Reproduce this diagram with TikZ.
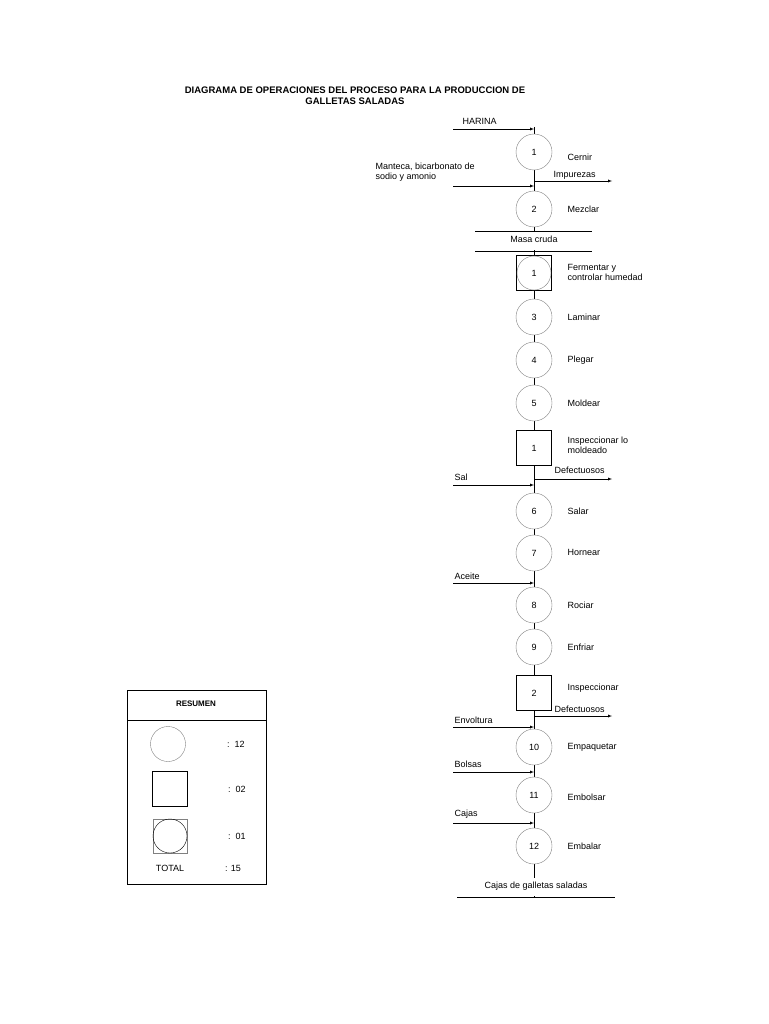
\documentclass[tikz,border=0pt]{standalone}
\usepackage{fontspec}
\setmainfont{Liberation Sans}
\begin{document}
\begin{tikzpicture}[x=1pt,y=-1pt,font=\fontsize{9}{10}\selectfont,
 op/.style={circle,draw,gray,text=black,minimum size=36pt,inner sep=0pt},
 insp/.style={rectangle,draw,minimum size=35pt,inner sep=0pt},
 lbl/.style={anchor=west,align=left},
 arr/.style={-latex}]
\useasboundingbox (0,0) rectangle (768,1024);
\node[font=\bfseries\fontsize{9.5}{11}\selectfont,align=center] (title) at (355,96) {DIAGRAMA DE OPERACIONES DEL PROCESO PARA LA PRODUCCION DE\\GALLETAS SALADAS};
\coordinate (top) at (534,127);
\coordinate (bot) at (534,897);
\draw (top) -- (bot);
\node[op,fill=white] (o1) at (534,152) {1};
\node[op,fill=white] (o2) at (534,209) {2};
\node[insp,fill=white] (c1) at (534,273) {};
\node[op,minimum size=34pt] (c1c) at (534,273) {1};
\node[op,fill=white] (o3) at (534,317) {3};
\node[op,fill=white] (o4) at (534,360) {4};
\node[op,fill=white] (o5) at (534,403) {5};
\node[insp,fill=white] (i1) at (534,448) {1};
\node[op,fill=white] (o6) at (534,511) {6};
\node[op,fill=white] (o7) at (534,553) {7};
\node[op,fill=white] (o8) at (534,605) {8};
\node[op,fill=white] (o9) at (534,647) {9};
\node[insp,fill=white] (i2) at (534,693) {2};
\node[op,fill=white] (o10) at (534,747) {10};
\node[op,fill=white] (o11) at (534,795) {11};
\node[op,fill=white] (o12) at (534,846) {12};
% step labels
\node[lbl] (l1) at (564,157) {Cernir};
\node[lbl] (l2) at (564,209) {Mezclar};
\node[lbl] (lc1) at (564,272) {Fermentar y\\controlar humedad};
\node[lbl] (l3) at (564,317) {Laminar};
\node[lbl] (l4) at (564,360) {Plegar};
\node[lbl] (l5) at (564,403) {Moldear};
\node[lbl] (li1) at (564,445) {Inspeccionar lo\\moldeado};
\node[lbl] (l6) at (564,511) {Salar};
\node[lbl] (l7) at (564,552) {Hornear};
\node[lbl] (l8) at (564,605) {Rociar};
\node[lbl] (l9) at (564,647) {Enfriar};
\node[lbl] (li2) at (564,688) {Inspeccionar};
\node[lbl] (l10) at (564,747) {Empaquetar};
\node[lbl] (l11) at (564,797) {Embolsar};
\node[lbl] (l12) at (564,846) {Embalar};
% inputs
\coordinate (h0) at (453,129); \coordinate (h1) at (534,129);
\draw[arr] (h0) -- (h1);
\node[lbl] (th) at (459,121) {HARINA};
\coordinate (m0) at (453,186); \coordinate (m1) at (534,186);
\draw[arr] (m0) -- (m1);
\node[lbl] (tm) at (372,172) {Manteca, bicarbonato de\\sodio y amonio};
\coordinate (p0) at (534,181); \coordinate (p1) at (612,181);
\draw[arr] (p0) -- (p1);
\node[lbl] (tp) at (550,175) {Impurezas};
\coordinate (s0) at (453,485); \coordinate (s1) at (534,485);
\draw[arr] (s0) -- (s1);
\node[lbl] (ts) at (451,477) {Sal};
\coordinate (d0) at (534,479); \coordinate (d1) at (612,479);
\draw[arr] (d0) -- (d1);
\node[lbl] (td) at (551,470) {Defectuosos};
\coordinate (a0) at (453,583); \coordinate (a1) at (534,583);
\draw[arr] (a0) -- (a1);
\node[lbl] (ta) at (451,576) {Aceite};
\coordinate (e0) at (534,716); \coordinate (e1) at (612,716);
\draw[arr] (e0) -- (e1);
\node[lbl] (te) at (551,709) {Defectuosos};
\coordinate (v0) at (453,727); \coordinate (v1) at (534,727);
\draw[arr] (v0) -- (v1);
\node[lbl] (tv) at (451,720) {Envoltura};
\coordinate (b0) at (453,772); \coordinate (b1) at (534,772);
\draw[arr] (b0) -- (b1);
\node[lbl] (tb) at (451,764) {Bolsas};
\coordinate (k0) at (453,823); \coordinate (k1) at (534,823);
\draw[arr] (k0) -- (k1);
\node[lbl] (tk) at (451,814) {Cajas};
% masa cruda
\fill[white] (476,232) rectangle (592,250);
\draw (475,231) -- (592,231);
\draw (475,251) -- (592,251);
\node (mc) at (534,239) {Masa cruda};
\fill[white] (458,878) rectangle (615,896);
\draw (457,897) -- (615,897);
\node (cg) at (536,886) {Cajas de galletas saladas};
% summary
\draw (127,690) rectangle (266,884);
\draw (127,720) -- (266,720);
\node[font=\bfseries\fontsize{8}{9}\selectfont] (rs) at (196,704) {RESUMEN};
\node[op,minimum size=35pt] (sc) at (168,744) {};
\node (n1) at (236,744) {:\ \ 12};
\node[insp] (ss) at (170,789) {};
\node (n2) at (237,789) {:\ \ 02};
\node[insp,gray,minimum size=34pt] (sb) at (170,836) {};
\node[circle,draw,minimum size=34pt,inner sep=0pt] (sbc) at (170,836) {};
\node (n3) at (237,836) {:\ \ 01};
\node (tt) at (170,868) {TOTAL};
\node (n4) at (233,868) {: 15};
\end{tikzpicture}
\end{document}
